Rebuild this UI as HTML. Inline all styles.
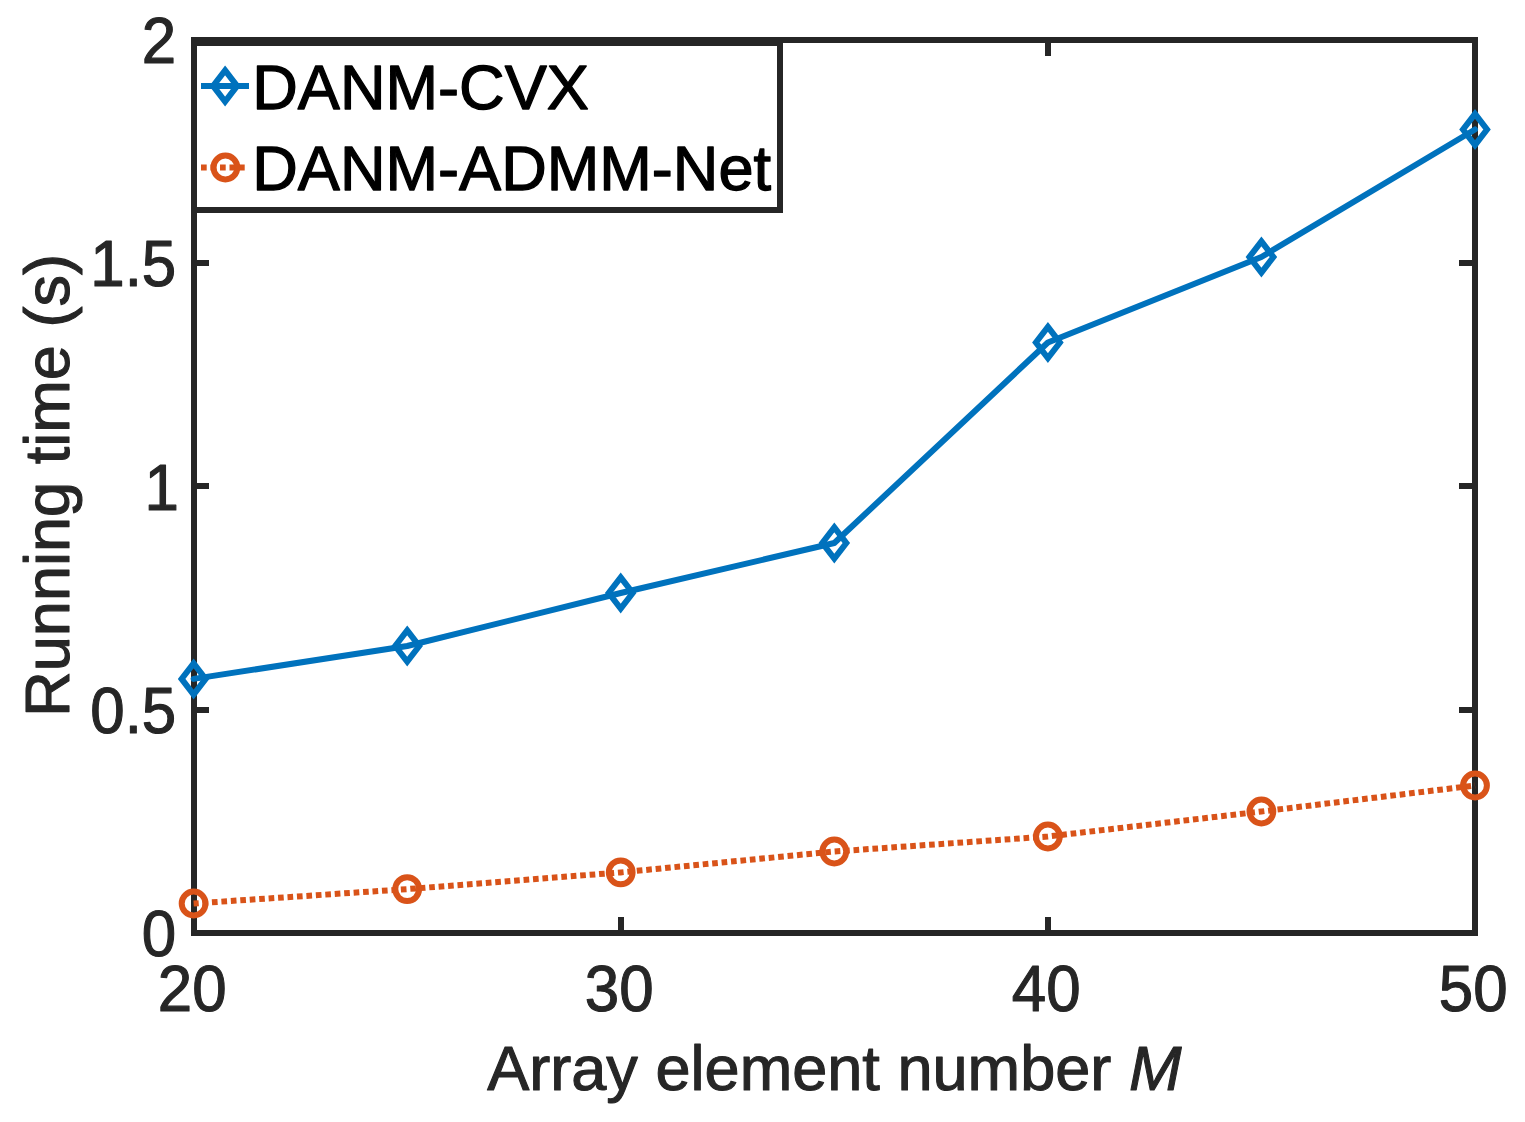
<!DOCTYPE html>
<html lang="en"><head><meta charset="utf-8"><title>Running time vs array element number</title>
<style>html,body{margin:0;padding:0;background:#fff}body{width:1525px;height:1122px;overflow:hidden}svg{display:block}text{font-family:"Liberation Sans",Arial,sans-serif;font-size:63.1px;fill:#262626;stroke:#262626;stroke-width:1.1px;stroke-linejoin:round}</style></head><body>
<svg width="1525" height="1122" viewBox="0 0 1525 1122">
<rect width="1525" height="1122" fill="#fff"/>
<g fill="#262626" shape-rendering="crispEdges">
<rect x="191" y="37" width="1287" height="6"/>
<rect x="191" y="930" width="1287" height="6"/>
<rect x="191" y="37" width="6" height="899"/>
<rect x="1472" y="37" width="6" height="899"/>
<rect x="618" y="917" width="6" height="14"/>
<rect x="618" y="42" width="6" height="14"/>
<rect x="1045" y="917" width="6" height="14"/>
<rect x="1045" y="42" width="6" height="14"/>
<rect x="196" y="707" width="13" height="6"/>
<rect x="1459" y="707" width="14" height="6"/>
<rect x="196" y="483" width="13" height="6"/>
<rect x="1459" y="483" width="14" height="6"/>
<rect x="196" y="260" width="13" height="6"/>
<rect x="1459" y="260" width="14" height="6"/>
</g>
<g>
<text transform="translate(192.2,1010.9) scale(0.98,1.015)" text-anchor="middle">20</text>
<text transform="translate(619.2,1010.9) scale(0.98,1.015)" text-anchor="middle">30</text>
<text transform="translate(1046.2,1010.9) scale(0.98,1.015)" text-anchor="middle">40</text>
<text transform="translate(1473.2,1010.9) scale(0.98,1.015)" text-anchor="middle">50</text>
<text transform="translate(176.2,956.0) scale(0.98,1.015)" text-anchor="end">0</text>
<text transform="translate(176.2,732.8) scale(0.98,1.015)" text-anchor="end">0.5</text>
<text transform="translate(179.0,509.5) scale(0.98,1.015)" text-anchor="end">1</text>
<text transform="translate(176.2,286.2) scale(0.98,1.015)" text-anchor="end">1.5</text>
<text transform="translate(176.2,63.0) scale(0.98,1.015)" text-anchor="end">2</text>
</g>
<text transform="translate(834.3,1090) scale(1,1)" text-anchor="middle">Array element number <tspan font-style="italic">M</tspan></text>
<text transform="translate(69.3,485.4) rotate(-90) scale(1,1)" text-anchor="middle">Running time (s)</text>
<polyline points="193.6,678.9 407.2,646.0 620.7,593.0 834.3,543.0 1047.9,342.5 1261.4,257.0 1475.0,129.5" fill="none" stroke="#0072BD" stroke-width="6.0" stroke-linecap="round" stroke-linejoin="round"/>
<polyline points="193.6,903.5 407.2,889.1 620.7,872.4 834.3,851.5 1047.9,836.5 1261.4,811.5 1475.0,785.5" fill="none" stroke="#D95319" stroke-width="6.0" stroke-dasharray="5.67 3.797" stroke-dashoffset="0.55"/>
<path d="M193.6 663.3L205.6 678.9L193.6 694.5L181.6 678.9Z" fill="none" stroke="#0072BD" stroke-width="6.0" stroke-linejoin="miter"/>
<path d="M407.2 630.4L419.2 646.0L407.2 661.6L395.2 646.0Z" fill="none" stroke="#0072BD" stroke-width="6.0" stroke-linejoin="miter"/>
<path d="M620.7 577.4L632.7 593.0L620.7 608.6L608.7 593.0Z" fill="none" stroke="#0072BD" stroke-width="6.0" stroke-linejoin="miter"/>
<path d="M834.3 527.4L846.3 543.0L834.3 558.6L822.3 543.0Z" fill="none" stroke="#0072BD" stroke-width="6.0" stroke-linejoin="miter"/>
<path d="M1047.9 326.9L1059.9 342.5L1047.9 358.1L1035.9 342.5Z" fill="none" stroke="#0072BD" stroke-width="6.0" stroke-linejoin="miter"/>
<path d="M1261.4 241.4L1273.4 257.0L1261.4 272.6L1249.4 257.0Z" fill="none" stroke="#0072BD" stroke-width="6.0" stroke-linejoin="miter"/>
<path d="M1475.0 113.9L1487.0 129.5L1475.0 145.1L1463.0 129.5Z" fill="none" stroke="#0072BD" stroke-width="6.0" stroke-linejoin="miter"/>
<circle cx="193.6" cy="903.5" r="11.9" fill="none" stroke="#D95319" stroke-width="6.0"/>
<circle cx="407.2" cy="889.1" r="11.9" fill="none" stroke="#D95319" stroke-width="6.0"/>
<circle cx="620.7" cy="872.4" r="11.9" fill="none" stroke="#D95319" stroke-width="6.0"/>
<circle cx="834.3" cy="851.5" r="11.9" fill="none" stroke="#D95319" stroke-width="6.0"/>
<circle cx="1047.9" cy="836.5" r="11.9" fill="none" stroke="#D95319" stroke-width="6.0"/>
<circle cx="1261.4" cy="811.5" r="11.9" fill="none" stroke="#D95319" stroke-width="6.0"/>
<circle cx="1475.0" cy="785.5" r="11.9" fill="none" stroke="#D95319" stroke-width="6.0"/>
<g shape-rendering="crispEdges"><rect x="194" y="43" width="586" height="167" fill="#fff" stroke="#262626" stroke-width="6"/></g>
<line x1="201" y1="85.9" x2="249" y2="85.9" stroke="#0072BD" stroke-width="6.0"/>
<path d="M225.1 70.3L237.1 85.9L225.1 101.5L213.1 85.9Z" fill="none" stroke="#0072BD" stroke-width="6.0" stroke-linejoin="miter"/>
<line x1="201" y1="167.5" x2="245" y2="167.5" stroke="#D95319" stroke-width="6.0" stroke-dasharray="5.7 3.8"/>
<circle cx="225.4" cy="167.5" r="11.9" fill="none" stroke="#D95319" stroke-width="6.0"/>
<text transform="translate(252.3,109.2) scale(1,1.01)" style="fill:#000;stroke:#000;stroke-width:1.3px">DANM-CVX</text>
<text transform="translate(252.3,190.2) scale(1,1.01)" style="fill:#000;stroke:#000;stroke-width:1.3px">DANM-ADMM-Net</text>
</svg></body></html>
